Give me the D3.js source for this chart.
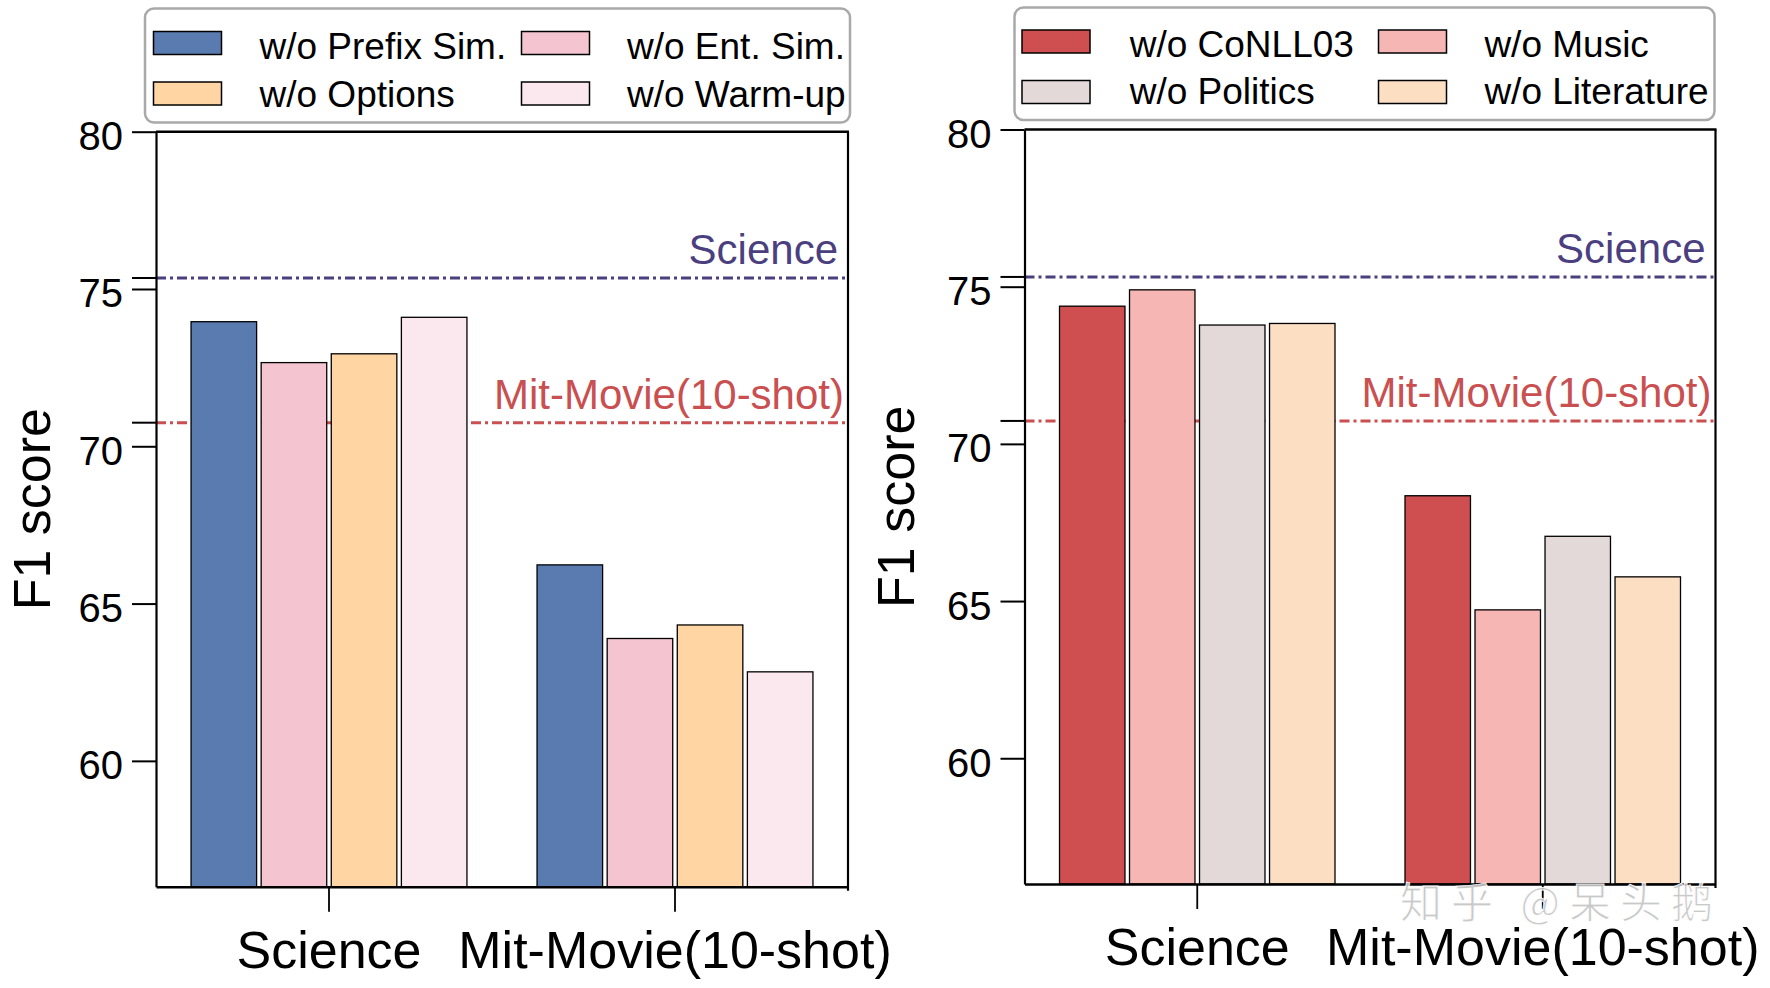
<!DOCTYPE html>
<html>
<head>
<meta charset="utf-8">
<script src="https://cdn.jsdelivr.net/npm/d3@7"></script>
<style>
  body { margin: 0; background: #fff; }
  text { font-family: "Liberation Sans", Arial, Helvetica, sans-serif; }
</style>
</head>
<body>
<div id="chart"></div>
<script>
// Donnees
const groups = ["Science", "Mit-Movie(10-shot)"];
const yTicks = [60, 65, 70, 75, 80];

const leftSeries = ["w/o Prefix Sim.", "w/o Ent. Sim.", "w/o Options", "w/o Warm-up"];
const leftColors = ["#5a7bb0", "#f4c4d0", "#fed5a3", "#fbe8ee"];
const leftScience = [73.96, 72.66, 72.94, 74.10];
const leftMitMovie = [66.23, 63.89, 64.32, 62.83];

const rightSeries = ["w/o CoNLL03", "w/o Music", "w/o Politics", "w/o Literature"];
const rightColors = ["#cf4f50", "#f6b6b3", "#e3d9d9", "#fcdfc3"];
const rightScience = [74.38, 74.90, 73.78, 73.83];
const rightMitMovie = [68.35, 64.72, 67.06, 65.77];

// lignes de reference (baseline)
const refNames = ["Science", "Mit-Movie(10-shot)"];
const refColors = ["#4b3f80", "#c94f50"];
const leftRefValues = [75.35, 70.75];
const rightRefValues = [75.31, 70.73];

const width = 1770, height = 988;

const svg = d3.select("#chart")
  .append("svg")
  .attr("width", width)
  .attr("height", height);

const panels = [
  {
    series: leftSeries, colors: leftColors, values: [leftScience, leftMitMovie], refs: leftRefValues,
    x0: 156, x1: 848, yTop: 131.7, yBottom: 886.7, titleX: 50,
    legend: { box: [145, 8.5, 705, 114], swX: [153.5, 521.5], swY: [31.5, 82], txtX: [259.5, 627], txtY: [58.5, 107] }
  },
  {
    series: rightSeries, colors: rightColors, values: [rightScience, rightMitMovie], refs: rightRefValues,
    x0: 1024.5, x1: 1715.5, yTop: 129.5, yBottom: 884, titleX: 914,
    legend: { box: [1014.5, 7.5, 700, 112.5], swX: [1022, 1378.5], swY: [30, 80.5], txtX: [1129.7, 1484.4], txtY: [56.5, 104] }
  }
];

panels.forEach(function (p) {
  const g = svg.append("g");

  // echelles
  const xGroup = d3.scaleBand()
    .domain(groups)
    .range([p.x0, p.x1])
    .paddingInner(0)
    .paddingOuter(0);

  const xSerie = d3.scaleBand()
    .domain(p.series)
    .range([0, xGroup.bandwidth()])
    .paddingInner(0.065)
    .paddingOuter(0.5);

  const y = d3.scaleLinear()
    .domain([56, 80])
    .range([p.yBottom, p.yTop]);

  // lignes de reference (sous les barres)
  p.refs.forEach(function (v, i) {
    g.append("line")
      .attr("x1", p.x0).attr("x2", p.x1)
      .attr("y1", y(v)).attr("y2", y(v))
      .attr("stroke", refColors[i])
      .attr("stroke-width", 3)
      .attr("stroke-dasharray", "10,4,3,4");
    g.append("line")
      .attr("x1", p.x0 - 24).attr("x2", p.x0)
      .attr("y1", y(v)).attr("y2", y(v))
      .attr("stroke", "#000")
      .attr("stroke-width", 2);
    g.append("text")
      .attr("x", p.x1 - (i == 0 ? 10 : 4))
      .attr("y", y(v) - 14)
      .attr("text-anchor", "end")
      .attr("font-size", 42)
      .attr("fill", refColors[i])
      .text(refNames[i]);
  });

  // barres
  const rows = [];
  groups.forEach(function (grp, gi) {
    p.series.forEach(function (s, si) {
      rows.push({ group: grp, serie: s, value: p.values[gi][si], color: p.colors[si] });
    });
  });

  g.selectAll(".bar")
    .data(rows)
    .join("rect")
    .attr("class", "bar")
    .attr("x", d => xGroup(d.group) + xSerie(d.serie))
    .attr("y", d => y(d.value))
    .attr("width", xSerie.bandwidth())
    .attr("height", d => p.yBottom - y(d.value))
    .attr("fill", d => d.color)
    .attr("stroke", "#000")
    .attr("stroke-width", 1.3);

  // axes
  const axeY = g.append("g")
    .attr("transform", "translate(" + p.x0 + ",0)")
    .call(d3.axisLeft(y).tickValues(yTicks).tickSize(24).tickSizeOuter(0).tickPadding(9));
  axeY.select(".domain").attr("stroke-width", 2.2);
  axeY.selectAll(".tick line").attr("stroke-width", 2);
  axeY.selectAll(".tick text")
    .attr("font-size", 40)
    .attr("font-family", "Liberation Sans, Arial, sans-serif")
    .attr("fill", "#000")
    .attr("dy", "0.45em");

  const axeX = g.append("g")
    .attr("transform", "translate(0," + p.yBottom + ")")
    .call(d3.axisBottom(xGroup).tickSize(25).tickSizeOuter(0).tickPadding(10));
  axeX.select(".domain").attr("stroke-width", 2.5);
  axeX.selectAll(".tick line").attr("stroke-width", 1.8);
  axeX.selectAll(".tick text")
    .attr("font-size", 52)
    .attr("font-family", "Liberation Sans, Arial, sans-serif")
    .attr("fill", "#000")
    .attr("dy", null)
    .attr("y", 81);

  // cadre haut et droite
  g.append("line")
    .attr("x1", p.x0).attr("x2", p.x1 + 1)
    .attr("y1", p.yTop).attr("y2", p.yTop)
    .attr("stroke", "#000").attr("stroke-width", 2.5);
  g.append("line")
    .attr("x1", p.x1).attr("x2", p.x1)
    .attr("y1", p.yTop).attr("y2", p.yBottom + 4)
    .attr("stroke", "#000").attr("stroke-width", 2.2);

  // titre axe Y
  g.append("text")
    .attr("transform", "translate(" + p.titleX + "," + ((p.yTop + p.yBottom) / 2) + ") rotate(-90)")
    .attr("text-anchor", "middle")
    .attr("font-size", 52)
    .attr("fill", "#000")
    .text("F1 score");

  // legende
  const L = p.legend;
  g.append("rect")
    .attr("x", L.box[0]).attr("y", L.box[1])
    .attr("width", L.box[2]).attr("height", L.box[3])
    .attr("rx", 9)
    .attr("fill", "#fff")
    .attr("stroke", "#a9a9a9")
    .attr("stroke-width", 2.5);

  p.series.forEach(function (s, i) {
    const col = i % 2, row = Math.floor(i / 2);
    g.append("rect")
      .attr("x", L.swX[col]).attr("y", L.swY[row])
      .attr("width", 68).attr("height", 23)
      .attr("fill", p.colors[i])
      .attr("stroke", "#000")
      .attr("stroke-width", 1.5);
    g.append("text")
      .attr("x", L.txtX[col]).attr("y", L.txtY[row])
      .attr("font-size", 37)
      .attr("fill", "#000")
      .text(s);
  });
});

// filigrane
svg.append("text")
  .attr("x", 1400)
  .attr("y", 918)
  .attr("font-size", 42)
  .attr("textLength", 313)
  .style("font-family", "'Noto Sans CJK SC', sans-serif")
  .attr("fill", "#c4c4c4")
  .attr("stroke", "#fff")
  .attr("stroke-width", 1)
  .attr("opacity", 0.9)
  .text("知乎 @呆头鹅");
</script>
</body>
</html>
